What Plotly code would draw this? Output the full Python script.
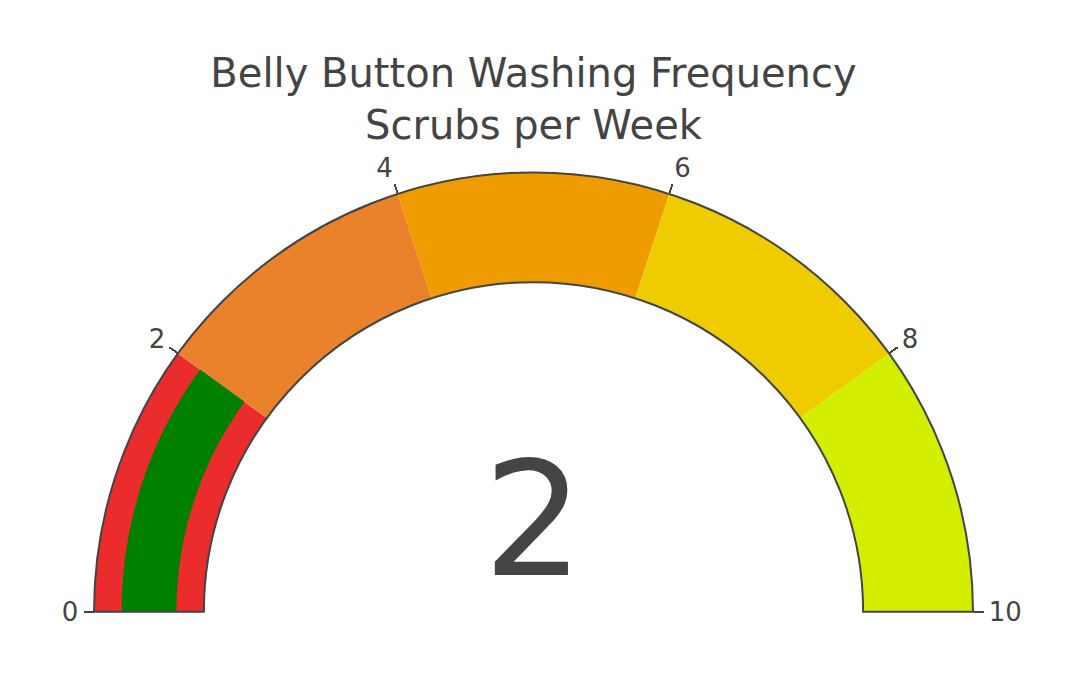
import plotly.graph_objects as go

# gauge data
value = 2
gauge_range = [0, 10]
step_edges = [0, 2, 4, 6, 8, 10]
step_colors = ["#EA2C2C", "#EA822C", "#EE9C00", "#EECC00", "#D4EE00"]
tick_values = [0, 2, 4, 6, 8, 10]

steps = [
    dict(range=[step_edges[i], step_edges[i + 1]], color=step_colors[i])
    for i in range(len(step_colors))
]

fig = go.Figure(
    go.Indicator(
        mode="gauge+number",
        value=value,
        title=dict(text="Belly Button Washing Frequency<br>Scrubs per Week",
                   font=dict(size=40)),
        number=dict(font=dict(size=158)),
        gauge=dict(
            axis=dict(range=gauge_range, tickvals=tick_values,
                      tickcolor="#444", ticklen=10, tickwidth=1.5,
                      tickfont=dict(size=26)),
            bar=dict(color="green", thickness=0.5),
            steps=steps,
            bordercolor="#444",
            borderwidth=2,
        ),
    )
)

fig.update_layout(
    template="none",
    font=dict(family="DejaVu Sans, Verdana, sans-serif", size=20, color="#444"),
    margin=dict(l=86, r=90, t=140, b=34),
)

fig.write_html("out.html")
